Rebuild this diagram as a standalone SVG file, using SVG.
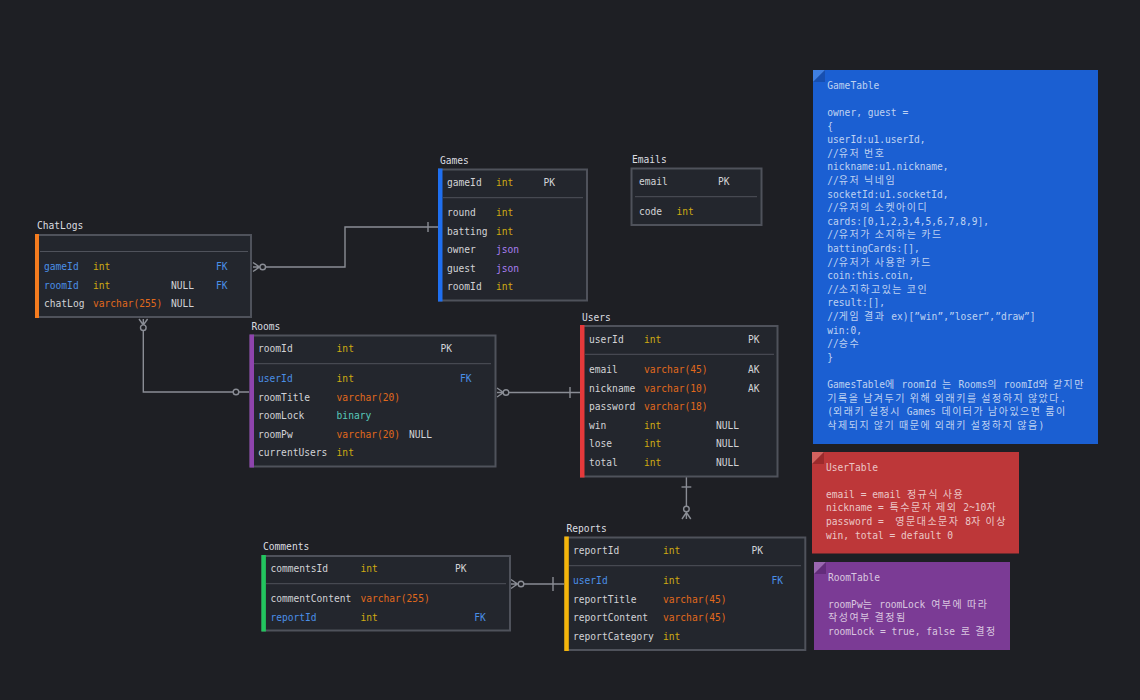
<svg xmlns="http://www.w3.org/2000/svg" width="1140" height="700" viewBox="0 0 1140 700">
<style>
text{font-family:"DejaVu Sans Mono","Liberation Mono",monospace;font-size:9.6px;fill:#d2d3d6;white-space:pre}
.title{fill:#dcdde0}
.box{fill:#23262d;stroke:#4f525b;stroke-width:2}
.sep{stroke:#4f525b;stroke-width:1}
.fk{fill:#4a8fe7}
.int{fill:#cfab12}
.vc{fill:#e0691c}
.js{fill:#a87ef0}
.bin{fill:#58c9b9}
.note text{fill:#ffffff;fill-opacity:0.72;font-family:"DejaVu Sans Mono","Noto Sans CJK KR",monospace}
.note .k{font-family:"Noto Sans CJK KR",sans-serif;font-size:10px;letter-spacing:1.5px}
.cn{stroke:#8a8d95;stroke-width:1.4;fill:none}
.cc{stroke:#8a8d95;stroke-width:1.4;fill:#1e1f24}
</style>
<rect width="1140" height="700" fill="#1e1f24"/>

<g id="connectors">
  <path class="cn" d="M266,267 H345 V227 H438"/>
  <path class="cn" d="M253,262.5 L259.5,267 L253,271.5 M253,267 H259.5"/>
  <circle class="cc" cx="262.7" cy="267" r="2.8"/>
  <path class="cn" d="M428,222 V232"/>
  <path class="cn" d="M143.3,330.5 V392 H233.2 M238.8,392 H249"/>
  <path class="cn" d="M139,319 L143.3,325 L147.6,319 M143.3,319 V325"/>
  <circle class="cc" cx="143.3" cy="327.7" r="2.8"/>
  <circle class="cc" cx="236" cy="392" r="2.8"/>
  <path class="cn" d="M508.8,392.5 H580"/>
  <path class="cn" d="M497,388 L503.5,392.5 L497,397 M497,392.5 H503.5"/>
  <circle class="cc" cx="506" cy="392.5" r="2.8"/>
  <path class="cn" d="M570,387 V398"/>
  <path class="cn" d="M686.4,477 V506.2"/>
  <path class="cn" d="M681.5,487 H691.3"/>
  <circle class="cc" cx="686.4" cy="509" r="2.8"/>
  <path class="cn" d="M686.4,511.8 V519 M686.4,512.5 L682,519 M686.4,512.5 L690.8,519"/>
  <path class="cn" d="M523.8,584 H564"/>
  <path class="cn" d="M511,579.5 L517.5,584 L511,588.5 M511,584 H517.5"/>
  <circle class="cc" cx="521" cy="584" r="2.8"/>
  <path class="cn" d="M553,577 V591"/>
</g>

<g id="ChatLogs">
  <text class="title" x="37" y="229">ChatLogs</text>
  <rect class="box" x="36" y="235" width="215" height="82"/>
  <rect x="35" y="234" width="4" height="84" fill="#f57c1f"/>
  <line class="sep" x1="40" y1="251.5" x2="248" y2="251.5"/>
  <text class="fk" x="44" y="270">gameId</text><text class="int" x="93" y="270">int</text><text class="fk" x="216" y="270">FK</text>
  <text class="fk" x="44" y="289">roomId</text><text class="int" x="93" y="289">int</text><text x="171" y="289">NULL</text><text class="fk" x="216" y="289">FK</text>
  <text x="44" y="307">chatLog</text><text class="vc" x="93" y="307">varchar(255)</text><text x="171" y="307">NULL</text>
</g>

<g id="Games">
  <text class="title" x="440" y="164">Games</text>
  <rect class="box" x="439" y="169.5" width="148" height="131"/>
  <rect x="438" y="168.5" width="4.5" height="133" fill="#1f6ff0"/>
  <line class="sep" x1="443" y1="197.7" x2="583" y2="197.7"/>
  <text x="447" y="186">gameId</text><text class="int" x="496" y="186">int</text><text x="543.5" y="186">PK</text>
  <text x="447" y="215.5">round</text><text class="int" x="496" y="215.5">int</text>
  <text x="447" y="234.8">batting</text><text class="int" x="496" y="234.8">int</text>
  <text x="447" y="252.8">owner</text><text class="js" x="496" y="252.8">json</text>
  <text x="447" y="271.8">guest</text><text class="js" x="496" y="271.8">json</text>
  <text x="447" y="289.8">roomId</text><text class="int" x="496" y="289.8">int</text>
</g>

<g id="Emails">
  <text class="title" x="632" y="163">Emails</text>
  <rect class="box" x="631.5" y="168.5" width="130" height="56.5"/>
  <line class="sep" x1="635" y1="196.7" x2="757" y2="196.7"/>
  <text x="639" y="184.5">email</text><text x="718" y="184.5">PK</text>
  <text x="639" y="214.8">code</text><text class="int" x="676.5" y="214.8">int</text>
</g>

<g id="Rooms">
  <text class="title" x="251.5" y="330">Rooms</text>
  <rect class="box" x="250.5" y="335.5" width="245" height="131"/>
  <rect x="249.5" y="334.5" width="4.5" height="133" fill="#8e44ad"/>
  <line class="sep" x1="254" y1="363.7" x2="491" y2="363.7"/>
  <text x="258" y="351.8">roomId</text><text class="int" x="336.6" y="351.8">int</text><text x="440.5" y="351.8">PK</text>
  <text class="fk" x="258" y="381.5">userId</text><text class="int" x="336.6" y="381.5">int</text><text class="fk" x="460" y="381.5">FK</text>
  <text x="258" y="400.8">roomTitle</text><text class="vc" x="336.6" y="400.8">varchar(20)</text>
  <text x="258" y="418.8">roomLock</text><text class="bin" x="336.6" y="418.8">binary</text>
  <text x="258" y="437.8">roomPw</text><text class="vc" x="336.6" y="437.8">varchar(20)</text><text x="409" y="437.8">NULL</text>
  <text x="258" y="455.8">currentUsers</text><text class="int" x="336.6" y="455.8">int</text>
</g>

<g id="Users">
  <text class="title" x="582" y="321">Users</text>
  <rect class="box" x="581" y="326" width="196.5" height="150.5"/>
  <rect x="580" y="325" width="4.5" height="152.5" fill="#e5393b"/>
  <line class="sep" x1="585" y1="354.3" x2="774" y2="354.3"/>
  <text x="589" y="342.8">userId</text><text class="int" x="644" y="342.8">int</text><text x="748" y="342.8">PK</text>
  <text x="589" y="372.8">email</text><text class="vc" x="644" y="372.8">varchar(45)</text><text x="748" y="372.8">AK</text>
  <text x="589" y="391.5">nickname</text><text class="vc" x="644" y="391.5">varchar(10)</text><text x="748" y="391.5">AK</text>
  <text x="589" y="409.8">password</text><text class="vc" x="644" y="409.8">varchar(18)</text>
  <text x="589" y="428.8">win</text><text class="int" x="644" y="428.8">int</text><text x="716" y="428.8">NULL</text>
  <text x="589" y="446.5">lose</text><text class="int" x="644" y="446.5">int</text><text x="716" y="446.5">NULL</text>
  <text x="589" y="465.8">total</text><text class="int" x="644" y="465.8">int</text><text x="716" y="465.8">NULL</text>
</g>

<g id="Reports">
  <text class="title" x="566.4" y="532.2">Reports</text>
  <rect class="box" x="565.3" y="537.5" width="240" height="112.5"/>
  <rect x="564.3" y="536.5" width="4.5" height="114.5" fill="#f5b50a"/>
  <line class="sep" x1="569" y1="565.7" x2="801" y2="565.7"/>
  <text x="573" y="553.8">reportId</text><text class="int" x="663" y="553.8">int</text><text x="751.5" y="553.8">PK</text>
  <text class="fk" x="573" y="583.8">userId</text><text class="int" x="663" y="583.8">int</text><text class="fk" x="771.5" y="583.8">FK</text>
  <text x="573" y="602.5">reportTitle</text><text class="vc" x="663" y="602.5">varchar(45)</text>
  <text x="573" y="620.5">reportContent</text><text class="vc" x="663" y="620.5">varchar(45)</text>
  <text x="573" y="639.5">reportCategory</text><text class="int" x="663" y="639.5">int</text>
</g>

<g id="Comments">
  <text class="title" x="263" y="550.2">Comments</text>
  <rect class="box" x="262.4" y="556" width="247.6" height="74.5"/>
  <rect x="261.4" y="555" width="4.5" height="76.5" fill="#22c55e"/>
  <line class="sep" x1="266" y1="583.7" x2="506" y2="583.7"/>
  <text x="270.4" y="571.8">commentsId</text><text class="int" x="360.4" y="571.8">int</text><text x="455" y="571.8">PK</text>
  <text x="270.4" y="601.8">commentContent</text><text class="vc" x="360.4" y="601.8">varchar(255)</text>
  <text class="fk" x="270.4" y="620.8">reportId</text><text class="int" x="360.4" y="620.8">int</text><text class="fk" x="474.3" y="620.8">FK</text>
</g>

<g id="GameTable" class="note">
  <polygon points="825,70 1098,70 1098,444 813,444 813,82" fill="#1b5fd2"/>
  <polygon points="813,82 825,70 825,82" fill="#174fb0"/>
  <polygon points="813,70 825,70 813,82" fill="#3f7fe2"/>
  <text x="827.3" y="88.8">GameTable</text>
  <text x="827.3" y="116">owner, guest =</text>
  <text x="827.3" y="129.6">{</text>
  <text x="827.3" y="143.2">userId:u1.userId,</text>
  <text x="827.3" y="156.8">//<tspan class="k">유저 번호</tspan></text>
  <text x="827.3" y="170.4">nickname:u1.nickname,</text>
  <text x="827.3" y="184">//<tspan class="k">유저 닉네임</tspan></text>
  <text x="827.3" y="197.6">socketId:u1.socketId,</text>
  <text x="827.3" y="211.2">//<tspan class="k">유저의 소켓아이디</tspan></text>
  <text x="827.3" y="224.8">cards:[0,1,2,3,4,5,6,7,8,9],</text>
  <text x="827.3" y="238.4">//<tspan class="k">유저가 소지하는 카드</tspan></text>
  <text x="827.3" y="252">battingCards:[],</text>
  <text x="827.3" y="265.6">//<tspan class="k">유저가 사용한 카드</tspan></text>
  <text x="827.3" y="279.2">coin:this.coin,</text>
  <text x="827.3" y="292.8">//<tspan class="k">소지하고있는 코인</tspan></text>
  <text x="827.3" y="306.4">result:[],</text>
  <text x="827.3" y="320">//<tspan class="k">게임 결과</tspan> ex)[”win”,”loser”,”draw”]</text>
  <text x="827.3" y="333.6">win:0,</text>
  <text x="827.3" y="347.2">//<tspan class="k">승수</tspan></text>
  <text x="827.3" y="360.8">}</text>
  <text x="827.3" y="388">GamesTable<tspan class="k">에</tspan> roomId <tspan class="k">는</tspan> Rooms<tspan class="k">의</tspan> roomId<tspan class="k">와 같지만</tspan></text>
  <text x="827.3" y="401.6"><tspan class="k">기록을 남겨두기 위해 외래키를 설정하지 않았다</tspan>.</text>
  <text x="827.3" y="415.2">(<tspan class="k">외래키 설정시</tspan> Games <tspan class="k">데이터가 남아있으면 룸이</tspan></text>
  <text x="827.3" y="428.8"><tspan class="k">삭제되지 않기 때문에 외래키 설정하지 않음</tspan>)</text>
</g>

<g id="UserTable" class="note">
  <polygon points="824,452 1019,452 1019,553.5 812,553.5 812,464" fill="#bd3739"/>
  <polygon points="812,464 824,452 824,464" fill="#9c2a2c"/>
  <polygon points="812,452 824,452 812,464" fill="#d2625f"/>
  <text x="826" y="470.5">UserTable</text>
  <text x="826" y="497.5">email = email <tspan class="k">정규식 사용</tspan></text>
  <text x="826" y="511.3">nickname = <tspan class="k">특수문자 제외</tspan> 2~10<tspan class="k">자</tspan></text>
  <text x="826" y="524.8">password =  <tspan class="k">영문대소문자</tspan> 8<tspan class="k">자 이상</tspan></text>
  <text x="826" y="538.8">win, total = default 0</text>
</g>

<g id="RoomTable" class="note">
  <polygon points="826,562 1010,562 1010,650 814,650 814,574" fill="#7b3b95"/>
  <polygon points="814,574 826,562 826,574" fill="#632c7b"/>
  <polygon points="814,562 826,562 814,574" fill="#9a66b0"/>
  <text x="828" y="580.5">RoomTable</text>
  <text x="828" y="607.5">roomPw<tspan class="k">는</tspan> roomLock <tspan class="k">여부에 따라</tspan></text>
  <text x="828" y="621.3"><tspan class="k">작성여부 결정됨</tspan></text>
  <text x="828" y="634.8">roomLock = true, false <tspan class="k">로 결정</tspan></text>
</g>
</svg>
